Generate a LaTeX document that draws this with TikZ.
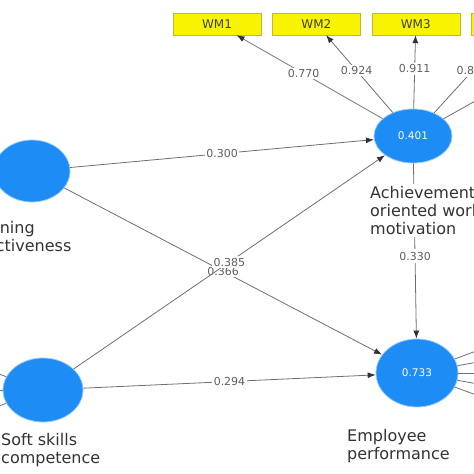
\documentclass[tikz,border=0pt]{standalone}
\usepackage{fontspec}
\setmainfont{DejaVu Sans}
\usetikzlibrary{arrows.meta,positioning,shapes.geometric}
\definecolor{plsblue}{RGB}{30,140,245}
\definecolor{plsyellow}{RGB}{248,244,0}
\definecolor{boxedge}{RGB}{190,185,60}
\definecolor{linegrey}{RGB}{110,110,110}
\definecolor{numgrey}{RGB}{95,95,95}

\begin{document}
\begin{tikzpicture}[
  x=1pt, y=-1pt,
  construct/.style={
    ellipse,
    fill=plsblue,
    draw=plsblue!45,
    line width=0.8pt,
    inner sep=0pt,
    text=white,
    font=\fontsize{10.5}{12}\selectfont
  },
  item/.style={
    draw=boxedge,
    fill=plsyellow,
    minimum width=88pt,
    minimum height=22pt,
    inner sep=0pt,
    text=black!75,
    font=\fontsize{12}{14}\selectfont
  },
  coef/.style={fill=white, inner sep=1.5pt, text=numgrey, font=\fontsize{11}{13}\selectfont},
  lvname/.style={align=left, anchor=north west, fill=white, inner sep=2pt,
    text=black!80, font=\fontsize{16}{18}\selectfont},
  arrow/.style={draw=linegrey, line width=0.8pt, -{Latex[length=8pt,width=6pt,color=black!80]}},
  stub/.style={draw=linegrey, line width=0.8pt}
]
\useasboundingbox (0,0) rectangle (474,474);
\clip (0,0) rectangle (474,474);

% latent variables
\node[construct, minimum width=76pt, minimum height=62pt] (learn) at (32,171) {};
\node[construct, minimum width=80pt, minimum height=64pt] (soft) at (43,390) {};
\node[construct, minimum width=78pt, minimum height=54pt] (achv) at (413,136) {0.401};
\node[construct, minimum width=82pt, minimum height=68pt] (perf) at (417,373) {0.733};

% indicators of the mediator
\node[item] (wm1) at (217,24) {WM1};
\node[item, right=11pt of wm1] (wm2) {WM2};
\node[item, right=11pt of wm2] (wm3) {WM3};
\node[item, right=11pt of wm3] (wm4) {WM4};
\coordinate (wm5) at (612,24);

% indicators beyond the page edge
\coordinate (ep1) at (600,305);
\coordinate (ep2) at (600,340);
\coordinate (ep3) at (600,373);
\coordinate (ep4) at (600,406);
\coordinate (ep5) at (600,441);
\coordinate (ss1) at (-150,320);
\coordinate (ss2) at (-150,390);
\coordinate (ss3) at (-150,460);

% structural paths
\draw[arrow] (learn) -- node[coef] {0.300} (achv);
\draw[arrow] (learn) -- node[coef] {0.366} (perf);
\draw[arrow] (soft) -- node[coef] {0.385} (achv);
\draw[arrow] (soft) -- node[coef] {0.294} (perf);
\draw[arrow] (achv) -- node[coef, pos=0.53, inner ysep=3pt] {0.330} (perf);

% outer loadings
\draw[arrow] (achv) -- node[coef, pos=0.54] {0.770} (wm1);
\draw[arrow] (achv) -- node[coef, pos=0.54] {0.924} (wm2);
\draw[arrow] (achv) -- node[coef, pos=0.54] {0.911} (wm3);
\draw[arrow] (achv) -- node[coef, pos=0.54] {0.843} (wm4);
\draw[arrow] (achv) -- (wm5);
\foreach \k in {1,...,5}
  \draw[arrow] (perf) -- (ep\k);
\foreach \k in {1,2,3}
  \draw[stub] (soft) -- (ss\k);

% construct names
\node[lvname] (learnname) at (-37,219) {Learning\\effectiveness};
\node[lvname] (achvname) at (368,184) {Achievement\\oriented work\\motivation};
\node[lvname] (perfname) at (345,427) {Employee\\performance};
\node[lvname] (softname) at (-1,431) {Soft skills\\competence};
\end{tikzpicture}
\end{document}
